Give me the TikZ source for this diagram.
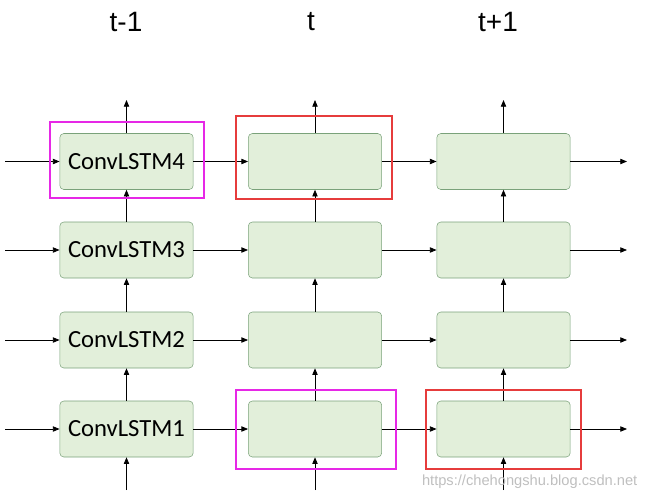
\documentclass[tikz,border=0pt]{standalone}
\usepackage{fontspec}
\setmainfont{Liberation Sans}
\newfontfamily\carl{Carlito}
\usetikzlibrary{arrows.meta}
\begin{document}
\begin{tikzpicture}[x=0.75pt,y=-0.75pt,
  cell/.style={draw=black!35!green!30!gray!80,fill={rgb,255:red,226;green,239;blue,218},rounded corners=3pt,minimum width=100pt,minimum height=42pt,inner sep=0pt},
  lbl/.style={font=\carl\fontsize{18.5}{20}\selectfont},
  ar/.style={-{Triangle[length=5pt,width=4pt]},semithick},
  hl/.style={line width=2.2pt},
  ttl/.style={font=\fontsize{21}{24}\selectfont}]
\useasboundingbox (0,0) rectangle (646,493);
\definecolor{mag}{RGB}{230,40,230}
\definecolor{rd}{RGB}{230,60,60}
\foreach \c/\x in {1/126.5,2/315,3/503.5}{
  \foreach \r/\y in {4/161.5,3/250,2/340,1/429}{
    \node[cell] (b\c\r) at (\x,\y) {};
  }
}
\foreach \r in {1,2,3,4}{\node[lbl] (n\r) at (b1\r) {ConvLSTM\r};}
\node[ttl] (t1) at (126,22) {t-1};
\node[ttl] (t2) at (311,22) {t};
\node[ttl] (t3) at (498,22) {t+1};
\foreach \r in {1,2,3,4}{
  \coordinate (L\r) at (5,0 |- b1\r);
  \coordinate (R\r) at (627,0 |- b3\r);
  \draw[ar] (L\r) -- (b1\r.west);
  \draw[ar] (b1\r.east) -- (b2\r.west);
  \draw[ar] (b2\r.east) -- (b3\r.west);
  \draw[ar] (b3\r.east) -- (R\r);
}
\foreach \c in {1,2,3}{
  \coordinate (B\c) at (b\c1.south |- 0,490);
  \coordinate (T\c) at (b\c4.north |- 0,100);
  \draw[ar] (B\c) -- (b\c1.south);
  \draw[ar] (b\c1.north) -- (b\c2.south);
  \draw[ar] (b\c2.north) -- (b\c3.south);
  \draw[ar] (b\c3.north) -- (b\c4.south);
  \draw[ar] (b\c4.north) -- (T\c);
}
\draw[hl,mag] (50,122) rectangle (204,198);
\draw[hl,rd] (236,116) rectangle (392,199);
\draw[hl,mag] (236,390) rectangle (396,469);
\draw[hl,rd] (426,390) rectangle (581,469);
\node[text=black!25,font=\fontsize{11}{12}\selectfont,anchor=east] (wm) at (642,482) {https://chehongshu.blog.csdn.net};
\end{tikzpicture}
\end{document}
